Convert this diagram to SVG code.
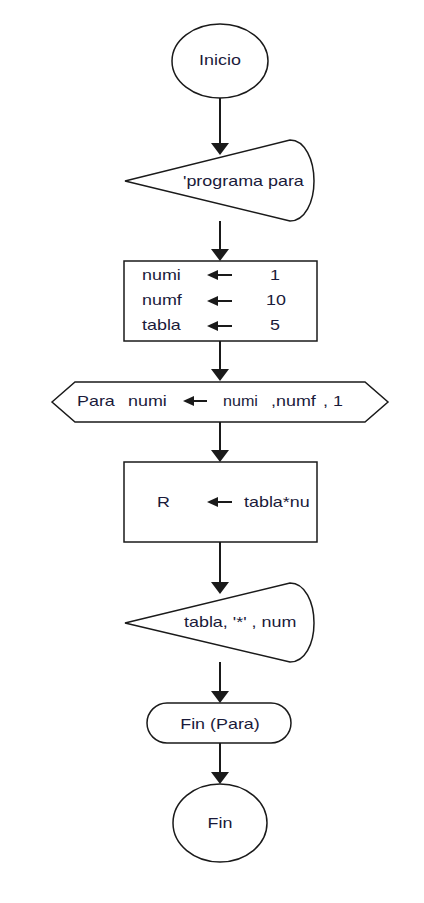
<svg xmlns="http://www.w3.org/2000/svg" width="424" height="903" viewBox="0 0 424 903">
<style>
.sh{fill:#fff;stroke:#1a1a1a;stroke-width:1.5}
.ln{stroke:#1a1a1a;stroke-width:2;fill:none}
.t{font-family:"Liberation Sans",Arial,sans-serif;font-size:14px;fill:#1a1a3a}
.sa{stroke:#1a1a1a;stroke-width:2;fill:none}
.ah{fill:#1a1a1a}
</style>
<defs>
<clipPath id="c1"><rect x="120" y="130" width="191" height="100"/></clipPath>
<clipPath id="c2"><rect x="120" y="455" width="195" height="95"/></clipPath>
<clipPath id="c3"><rect x="120" y="575" width="191" height="95"/></clipPath>
</defs>
<rect width="424" height="903" fill="#fff"/>
<g id="connectors">
<line class="ln" x1="220" y1="98" x2="220" y2="145"/>
<polygon class="ah" points="211,143 229,143 220,155"/>
<line class="ln" x1="220" y1="221" x2="220" y2="251"/>
<polygon class="ah" points="211,249 229,249 220,261"/>
<line class="ln" x1="220" y1="341" x2="220" y2="371"/>
<polygon class="ah" points="211,369 229,369 220,381"/>
<line class="ln" x1="220" y1="422" x2="220" y2="452"/>
<polygon class="ah" points="211,450 229,450 220,462"/>
<line class="ln" x1="220" y1="542" x2="220" y2="584"/>
<polygon class="ah" points="211,582 229,582 220,594"/>
<line class="ln" x1="220" y1="662" x2="220" y2="693"/>
<polygon class="ah" points="211,691 229,691 220,703"/>
<line class="ln" x1="220" y1="743" x2="220" y2="774"/>
<polygon class="ah" points="211,772 229,772 220,784"/>
</g>
<g id="inicio">
<ellipse class="sh" cx="220" cy="61" rx="48" ry="37"/>
<text class="t" text-anchor="middle" transform="translate(220,65) scale(1.28,1)">Inicio</text>
</g>
<g id="salida1">
<path class="sh" d="M125,181 L290,140 C305,140 314,160 314,181 C314,202 305,221 290,221 Z"/>
<g clip-path="url(#c1)"><text class="t" transform="translate(183,186) scale(1.28,1)">'programa para</text></g>
</g>
<g id="asignacion">
<rect class="sh" x="124" y="261" width="193" height="80"/>
<text class="t" transform="translate(142,280) scale(1.28,1)">numi</text>
<text class="t" transform="translate(142,305) scale(1.28,1)">numf</text>
<text class="t" transform="translate(142,330) scale(1.28,1)">tabla</text>
<line class="sa" x1="232" y1="275" x2="215" y2="275"/><polygon class="ah" points="207,275 218,270 218,280"/>
<line class="sa" x1="232" y1="301" x2="215" y2="301"/><polygon class="ah" points="207,301 218,296 218,306"/>
<line class="sa" x1="232" y1="326" x2="215" y2="326"/><polygon class="ah" points="207,326 218,321 218,331"/>
<text class="t" text-anchor="middle" transform="translate(275,280) scale(1.28,1)">1</text>
<text class="t" text-anchor="middle" transform="translate(276,305) scale(1.28,1)">10</text>
<text class="t" text-anchor="middle" transform="translate(275,330) scale(1.28,1)">5</text>
</g>
<g id="para">
<polygon class="sh" points="52,402 75,382 365,382 388,402 365,422 75,422"/>
<text class="t" transform="translate(77,406) scale(1.28,1)">Para</text>
<text class="t" transform="translate(128,406) scale(1.28,1)">numi</text>
<line class="sa" x1="207" y1="401" x2="192" y2="401"/><polygon class="ah" points="183,401 194,396 194,406"/>
<text class="t" transform="translate(223,406) scale(1.15,1)">numi</text>
<text class="t" transform="translate(271,406) scale(1.28,1)">,numf</text>
<text class="t" transform="translate(323,406) scale(1.28,1)">, 1</text>
</g>
<g id="proceso">
<rect class="sh" x="124" y="462" width="193" height="80"/>
<text class="t" transform="translate(157,507) scale(1.28,1)">R</text>
<line class="sa" x1="232" y1="502" x2="215" y2="502"/><polygon class="ah" points="207,502 218,497 218,507"/>
<g clip-path="url(#c2)"><text class="t" transform="translate(244,507) scale(1.28,1)">tabla*nu</text></g>
</g>
<g id="salida2">
<path class="sh" d="M125,623 L290,583 C305,583 314,602 314,623 C314,644 305,662 290,662 Z"/>
<g clip-path="url(#c3)"><text class="t" transform="translate(184,627) scale(1.28,1)">tabla, '*' , num</text></g>
</g>
<g id="finpara">
<rect class="sh" x="147" y="703" width="144" height="40" rx="20" ry="20"/>
<text class="t" text-anchor="middle" transform="translate(220,729) scale(1.28,1)">Fin (Para)</text>
</g>
<g id="fin">
<ellipse class="sh" cx="220" cy="823" rx="47" ry="39"/>
<text class="t" text-anchor="middle" transform="translate(220,828) scale(1.28,1)">Fin</text>
</g>
</svg>
